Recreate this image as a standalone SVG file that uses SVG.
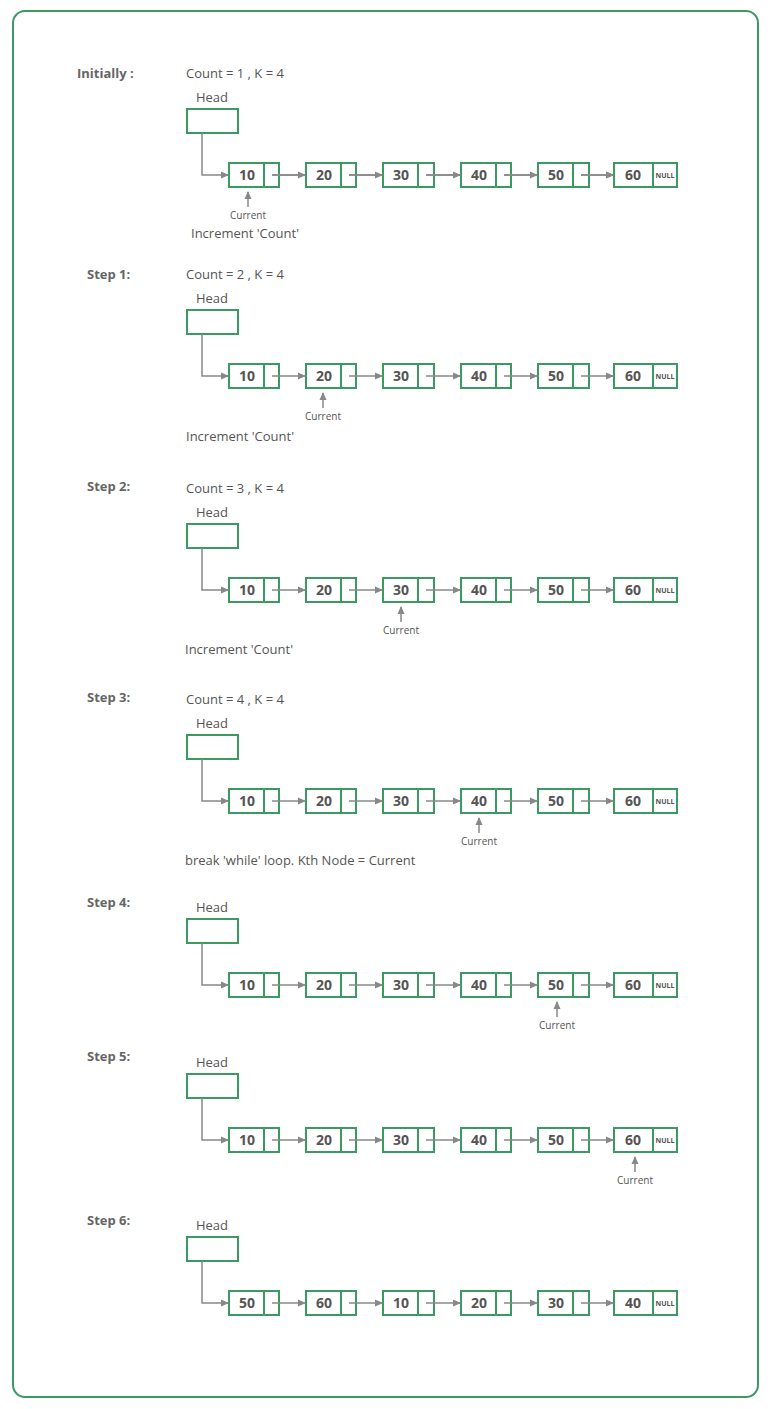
<svg xmlns="http://www.w3.org/2000/svg" width="768" height="1409" viewBox="0 0 768 1409">
<defs>
<marker id="ah" markerWidth="8" markerHeight="8" refX="7" refY="4" orient="auto" markerUnits="userSpaceOnUse"><path d="M0,0.5 L8,4 L0,7.5 z" fill="#888"/></marker>
<style>
text{font-family:"Open Sans","Noto Sans",sans-serif;fill:#555}
.lbl{font-size:13px;font-weight:bold;fill:#666}
.t{font-size:13px}
.n{font-size:14px;font-weight:bold;text-anchor:middle}
.nl{font-size:7px;font-weight:bold;text-anchor:middle}
.cur{font-size:10px;text-anchor:middle}
.b{fill:#fff;stroke:#3a9a62;stroke-width:2}
.c{fill:none;stroke:#888;stroke-width:1.5}
</style>
</defs>
<rect x="13" y="11" width="745" height="1386" rx="12" fill="#fff" stroke="#3a9a62" stroke-width="2"/>
<g id="texts">
<text class="lbl" x="77" y="78">Initially :</text>
<text class="t" x="186" y="78">Count = 1 , K = 4</text>
<text class="t" x="191" y="238">Increment 'Count'</text>
<text class="lbl" x="87" y="279">Step 1:</text>
<text class="t" x="186" y="279">Count = 2 , K = 4</text>
<text class="t" x="186" y="441">Increment 'Count'</text>
<text class="lbl" x="87" y="491">Step 2:</text>
<text class="t" x="186" y="493">Count = 3 , K = 4</text>
<text class="t" x="185" y="654">Increment 'Count'</text>
<text class="lbl" x="87" y="702">Step 3:</text>
<text class="t" x="186" y="704">Count = 4 , K = 4</text>
<text class="t" x="185" y="865">break 'while' loop. Kth Node = Current</text>
<text class="lbl" x="87" y="907">Step 4:</text>
<text class="lbl" x="87" y="1061">Step 5:</text>
<text class="lbl" x="87" y="1225">Step 6:</text>
</g>
<g id="row0" transform="translate(0,175)">
<text class="t" x="212" y="-73" text-anchor="middle">Head</text><rect class="b" x="187" y="-66" width="51" height="24"/>
<g id="r0n1"><rect class="b" x="229" y="-12" width="50" height="24"/><line class="b" x1="264" y1="-12" x2="264" y2="12"/><text class="n" x="247" y="5">10</text></g>
<g id="r0n2"><rect class="b" x="306" y="-12" width="50" height="24"/><line class="b" x1="341" y1="-12" x2="341" y2="12"/><text class="n" x="324" y="5">20</text></g>
<g id="r0n3"><rect class="b" x="383" y="-12" width="51" height="24"/><line class="b" x1="418" y1="-12" x2="418" y2="12"/><text class="n" x="401" y="5">30</text></g>
<g id="r0n4"><rect class="b" x="461" y="-12" width="50" height="24"/><line class="b" x1="496" y1="-12" x2="496" y2="12"/><text class="n" x="479" y="5">40</text></g>
<g id="r0n5"><rect class="b" x="538" y="-12" width="51" height="24"/><line class="b" x1="573" y1="-12" x2="573" y2="12"/><text class="n" x="556" y="5">50</text></g>
<g id="r0n6"><rect class="b" x="614" y="-12" width="63" height="24"/><line class="b" x1="653" y1="-12" x2="653" y2="12"/><text class="n" x="633" y="5">60</text><text class="nl" x="665" y="3">NULL</text></g>
<g id="r0c"><path class="c" d="M202,-42 V0 H228" marker-end="url(#ah)"/><path class="c" d="M272,0 H305 M349,0 H382 M426,0 H460 M504,0 H537 M581,0 H613" marker-end="url(#ah)"/>
<path class="c" d="M272,0 H305" marker-end="url(#ah)"/><path class="c" d="M349,0 H382" marker-end="url(#ah)"/><path class="c" d="M426,0 H460" marker-end="url(#ah)"/><path class="c" d="M504,0 H537" marker-end="url(#ah)"/><path class="c" d="M581,0 H613" marker-end="url(#ah)"/>
<path class="c" d="M248,32 V17" marker-end="url(#ah)"/></g>
<text class="cur" x="248" y="44">Current</text>
</g>
<g id="row1" transform="translate(0,376)">
<text class="t" x="212" y="-73" text-anchor="middle">Head</text><rect class="b" x="187" y="-66" width="51" height="24"/>
<g><rect class="b" x="229" y="-12" width="50" height="24"/><line class="b" x1="264" y1="-12" x2="264" y2="12"/><text class="n" x="247" y="5">10</text></g>
<g><rect class="b" x="306" y="-12" width="50" height="24"/><line class="b" x1="341" y1="-12" x2="341" y2="12"/><text class="n" x="324" y="5">20</text></g>
<g><rect class="b" x="383" y="-12" width="51" height="24"/><line class="b" x1="418" y1="-12" x2="418" y2="12"/><text class="n" x="401" y="5">30</text></g>
<g><rect class="b" x="461" y="-12" width="50" height="24"/><line class="b" x1="496" y1="-12" x2="496" y2="12"/><text class="n" x="479" y="5">40</text></g>
<g><rect class="b" x="538" y="-12" width="51" height="24"/><line class="b" x1="573" y1="-12" x2="573" y2="12"/><text class="n" x="556" y="5">50</text></g>
<g><rect class="b" x="614" y="-12" width="63" height="24"/><line class="b" x1="653" y1="-12" x2="653" y2="12"/><text class="n" x="633" y="5">60</text><text class="nl" x="665" y="3">NULL</text></g>
<g><path class="c" d="M202,-42 V0 H228" marker-end="url(#ah)"/><path class="c" d="M272,0 H305" marker-end="url(#ah)"/><path class="c" d="M349,0 H382" marker-end="url(#ah)"/><path class="c" d="M426,0 H460" marker-end="url(#ah)"/><path class="c" d="M504,0 H537" marker-end="url(#ah)"/><path class="c" d="M581,0 H613" marker-end="url(#ah)"/>
<path class="c" d="M323,32 V17" marker-end="url(#ah)"/></g>
<text class="cur" x="323" y="44">Current</text>
</g>
<g id="row2" transform="translate(0,590)">
<text class="t" x="212" y="-73" text-anchor="middle">Head</text><rect class="b" x="187" y="-66" width="51" height="24"/>
<g><rect class="b" x="229" y="-12" width="50" height="24"/><line class="b" x1="264" y1="-12" x2="264" y2="12"/><text class="n" x="247" y="5">10</text></g>
<g><rect class="b" x="306" y="-12" width="50" height="24"/><line class="b" x1="341" y1="-12" x2="341" y2="12"/><text class="n" x="324" y="5">20</text></g>
<g><rect class="b" x="383" y="-12" width="51" height="24"/><line class="b" x1="418" y1="-12" x2="418" y2="12"/><text class="n" x="401" y="5">30</text></g>
<g><rect class="b" x="461" y="-12" width="50" height="24"/><line class="b" x1="496" y1="-12" x2="496" y2="12"/><text class="n" x="479" y="5">40</text></g>
<g><rect class="b" x="538" y="-12" width="51" height="24"/><line class="b" x1="573" y1="-12" x2="573" y2="12"/><text class="n" x="556" y="5">50</text></g>
<g><rect class="b" x="614" y="-12" width="63" height="24"/><line class="b" x1="653" y1="-12" x2="653" y2="12"/><text class="n" x="633" y="5">60</text><text class="nl" x="665" y="3">NULL</text></g>
<g><path class="c" d="M202,-42 V0 H228" marker-end="url(#ah)"/><path class="c" d="M272,0 H305" marker-end="url(#ah)"/><path class="c" d="M349,0 H382" marker-end="url(#ah)"/><path class="c" d="M426,0 H460" marker-end="url(#ah)"/><path class="c" d="M504,0 H537" marker-end="url(#ah)"/><path class="c" d="M581,0 H613" marker-end="url(#ah)"/>
<path class="c" d="M401,32 V17" marker-end="url(#ah)"/></g>
<text class="cur" x="401" y="44">Current</text>
</g>
<g id="row3" transform="translate(0,801)">
<text class="t" x="212" y="-73" text-anchor="middle">Head</text><rect class="b" x="187" y="-66" width="51" height="24"/>
<g><rect class="b" x="229" y="-12" width="50" height="24"/><line class="b" x1="264" y1="-12" x2="264" y2="12"/><text class="n" x="247" y="5">10</text></g>
<g><rect class="b" x="306" y="-12" width="50" height="24"/><line class="b" x1="341" y1="-12" x2="341" y2="12"/><text class="n" x="324" y="5">20</text></g>
<g><rect class="b" x="383" y="-12" width="51" height="24"/><line class="b" x1="418" y1="-12" x2="418" y2="12"/><text class="n" x="401" y="5">30</text></g>
<g><rect class="b" x="461" y="-12" width="50" height="24"/><line class="b" x1="496" y1="-12" x2="496" y2="12"/><text class="n" x="479" y="5">40</text></g>
<g><rect class="b" x="538" y="-12" width="51" height="24"/><line class="b" x1="573" y1="-12" x2="573" y2="12"/><text class="n" x="556" y="5">50</text></g>
<g><rect class="b" x="614" y="-12" width="63" height="24"/><line class="b" x1="653" y1="-12" x2="653" y2="12"/><text class="n" x="633" y="5">60</text><text class="nl" x="665" y="3">NULL</text></g>
<g><path class="c" d="M202,-42 V0 H228" marker-end="url(#ah)"/><path class="c" d="M272,0 H305" marker-end="url(#ah)"/><path class="c" d="M349,0 H382" marker-end="url(#ah)"/><path class="c" d="M426,0 H460" marker-end="url(#ah)"/><path class="c" d="M504,0 H537" marker-end="url(#ah)"/><path class="c" d="M581,0 H613" marker-end="url(#ah)"/>
<path class="c" d="M479,32 V17" marker-end="url(#ah)"/></g>
<text class="cur" x="479" y="44">Current</text>
</g>
<g id="row4" transform="translate(0,985)">
<text class="t" x="212" y="-73" text-anchor="middle">Head</text><rect class="b" x="187" y="-66" width="51" height="24"/>
<g><rect class="b" x="229" y="-12" width="50" height="24"/><line class="b" x1="264" y1="-12" x2="264" y2="12"/><text class="n" x="247" y="5">10</text></g>
<g><rect class="b" x="306" y="-12" width="50" height="24"/><line class="b" x1="341" y1="-12" x2="341" y2="12"/><text class="n" x="324" y="5">20</text></g>
<g><rect class="b" x="383" y="-12" width="51" height="24"/><line class="b" x1="418" y1="-12" x2="418" y2="12"/><text class="n" x="401" y="5">30</text></g>
<g><rect class="b" x="461" y="-12" width="50" height="24"/><line class="b" x1="496" y1="-12" x2="496" y2="12"/><text class="n" x="479" y="5">40</text></g>
<g><rect class="b" x="538" y="-12" width="51" height="24"/><line class="b" x1="573" y1="-12" x2="573" y2="12"/><text class="n" x="556" y="5">50</text></g>
<g><rect class="b" x="614" y="-12" width="63" height="24"/><line class="b" x1="653" y1="-12" x2="653" y2="12"/><text class="n" x="633" y="5">60</text><text class="nl" x="665" y="3">NULL</text></g>
<g><path class="c" d="M202,-42 V0 H228" marker-end="url(#ah)"/><path class="c" d="M272,0 H305" marker-end="url(#ah)"/><path class="c" d="M349,0 H382" marker-end="url(#ah)"/><path class="c" d="M426,0 H460" marker-end="url(#ah)"/><path class="c" d="M504,0 H537" marker-end="url(#ah)"/><path class="c" d="M581,0 H613" marker-end="url(#ah)"/>
<path class="c" d="M557,32 V17" marker-end="url(#ah)"/></g>
<text class="cur" x="557" y="44">Current</text>
</g>
<g id="row5" transform="translate(0,1140)">
<text class="t" x="212" y="-73" text-anchor="middle">Head</text><rect class="b" x="187" y="-66" width="51" height="24"/>
<g><rect class="b" x="229" y="-12" width="50" height="24"/><line class="b" x1="264" y1="-12" x2="264" y2="12"/><text class="n" x="247" y="5">10</text></g>
<g><rect class="b" x="306" y="-12" width="50" height="24"/><line class="b" x1="341" y1="-12" x2="341" y2="12"/><text class="n" x="324" y="5">20</text></g>
<g><rect class="b" x="383" y="-12" width="51" height="24"/><line class="b" x1="418" y1="-12" x2="418" y2="12"/><text class="n" x="401" y="5">30</text></g>
<g><rect class="b" x="461" y="-12" width="50" height="24"/><line class="b" x1="496" y1="-12" x2="496" y2="12"/><text class="n" x="479" y="5">40</text></g>
<g><rect class="b" x="538" y="-12" width="51" height="24"/><line class="b" x1="573" y1="-12" x2="573" y2="12"/><text class="n" x="556" y="5">50</text></g>
<g><rect class="b" x="614" y="-12" width="63" height="24"/><line class="b" x1="653" y1="-12" x2="653" y2="12"/><text class="n" x="633" y="5">60</text><text class="nl" x="665" y="3">NULL</text></g>
<g><path class="c" d="M202,-42 V0 H228" marker-end="url(#ah)"/><path class="c" d="M272,0 H305" marker-end="url(#ah)"/><path class="c" d="M349,0 H382" marker-end="url(#ah)"/><path class="c" d="M426,0 H460" marker-end="url(#ah)"/><path class="c" d="M504,0 H537" marker-end="url(#ah)"/><path class="c" d="M581,0 H613" marker-end="url(#ah)"/>
<path class="c" d="M635,32 V17" marker-end="url(#ah)"/></g>
<text class="cur" x="635" y="44">Current</text>
</g>
<g id="row6" transform="translate(0,1303)">
<text class="t" x="212" y="-73" text-anchor="middle">Head</text><rect class="b" x="187" y="-66" width="51" height="24"/>
<g><rect class="b" x="229" y="-12" width="50" height="24"/><line class="b" x1="264" y1="-12" x2="264" y2="12"/><text class="n" x="247" y="5">50</text></g>
<g><rect class="b" x="306" y="-12" width="50" height="24"/><line class="b" x1="341" y1="-12" x2="341" y2="12"/><text class="n" x="324" y="5">60</text></g>
<g><rect class="b" x="383" y="-12" width="51" height="24"/><line class="b" x1="418" y1="-12" x2="418" y2="12"/><text class="n" x="401" y="5">10</text></g>
<g><rect class="b" x="461" y="-12" width="50" height="24"/><line class="b" x1="496" y1="-12" x2="496" y2="12"/><text class="n" x="479" y="5">20</text></g>
<g><rect class="b" x="538" y="-12" width="51" height="24"/><line class="b" x1="573" y1="-12" x2="573" y2="12"/><text class="n" x="556" y="5">30</text></g>
<g><rect class="b" x="614" y="-12" width="63" height="24"/><line class="b" x1="653" y1="-12" x2="653" y2="12"/><text class="n" x="633" y="5">40</text><text class="nl" x="665" y="3">NULL</text></g>
<g><path class="c" d="M202,-42 V0 H228" marker-end="url(#ah)"/><path class="c" d="M272,0 H305" marker-end="url(#ah)"/><path class="c" d="M349,0 H382" marker-end="url(#ah)"/><path class="c" d="M426,0 H460" marker-end="url(#ah)"/><path class="c" d="M504,0 H537" marker-end="url(#ah)"/><path class="c" d="M581,0 H613" marker-end="url(#ah)"/></g>
</g>
</svg>
